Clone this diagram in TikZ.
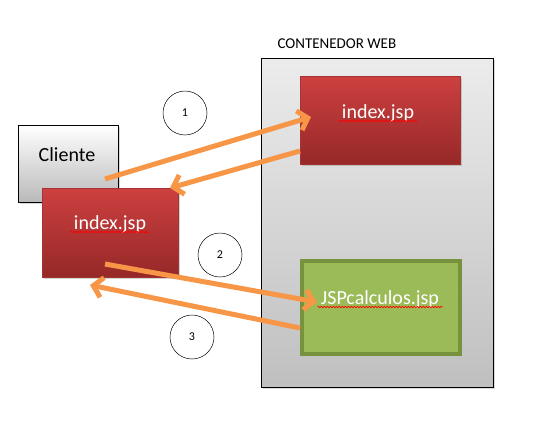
\documentclass[tikz,border=0pt]{standalone}
\usepackage{fontspec}
\setmainfont{Carlito}
\usetikzlibrary{arrows.meta,shadows,decorations.pathmorphing}
\definecolor{redtop}{HTML}{CD4040}
\definecolor{redbot}{HTML}{962828}
\definecolor{greenfill}{HTML}{9BBB59}
\definecolor{greenline}{HTML}{76923C}
\definecolor{arrowor}{HTML}{F79646}
\tikzset{
  redbox/.style={minimum width=#1, top color=redtop, bottom color=redbot, draw=redtop!80!black, line width=0.4pt, text=white, font=\fontsize{20}{24}\selectfont, drop shadow={shadow xshift=2pt, shadow yshift=-2pt, opacity=0.35}},
  numcircle/.style={circle, draw=black, line width=0.5pt, minimum size=44pt, inner sep=0pt, font=\fontsize{12}{14}\selectfont},
  flow/.style={draw=arrowor, line width=5pt, -{Straight Barb[length=9pt,width=20pt]}},
  spell/.style={draw=red, line width=0.6pt, decorate, decoration={snake, amplitude=0.8pt, segment length=3pt}}
}
\begin{document}
\begin{tikzpicture}[x=1pt,y=-1pt]
\useasboundingbox (0,0) rectangle (534,431);
% container
\node[draw=black, line width=0.8pt, top color=gray!15, bottom color=gray!50, minimum width=232pt, minimum height=329pt, anchor=north west, drop shadow={shadow xshift=2pt, shadow yshift=-2pt, opacity=0.3}] (cont) at (261,58) {};
\node[font=\fontsize{15}{18}\selectfont, anchor=base west] (contlbl) at (274,48) {CONTENEDOR WEB};
% client
\node[draw=black, line width=0.8pt, top color=white, bottom color=gray!55, minimum width=100pt, minimum height=77pt, anchor=north west, drop shadow={shadow xshift=2pt, shadow yshift=-2pt, opacity=0.3}] (cliente) at (18,125) {};
\node[font=\fontsize{20}{24}\selectfont, anchor=base] (clientelbl) at (67,161) {Cliente};
\node[redbox=136pt, minimum height=89pt, anchor=north west] (cindex) at (42,188) {};
\node[text=white, font=\fontsize{20}{24}\selectfont, anchor=base] (cindexlbl) at (110,229) {index.jsp};
% server index
\node[redbox=160pt, minimum height=88pt, anchor=north west] (sindex) at (300,76) {};
\node[text=white, font=\fontsize{20}{24}\selectfont, anchor=base] (sindexlbl) at (378,118) {index.jsp};
% green
\node[draw=greenline, line width=3.5pt, fill=greenfill, minimum width=158pt, minimum height=93pt, anchor=north west] (calc) at (300,259) {};
\node[text=white, font=\fontsize{20}{24}\selectfont, anchor=base] (calclbl) at (380,304) {JSPcalculos.jsp};
% spell underlines
\draw[spell] ([yshift=-3pt]cindexlbl.base west) -- ([yshift=-3pt]cindexlbl.base east);
\draw[spell] ([yshift=-3pt]sindexlbl.base west) -- ([yshift=-3pt]sindexlbl.base east);
\draw[spell] ([yshift=-3pt]calclbl.base west) -- ([yshift=-3pt]calclbl.base east);
% circles
\node[numcircle] (n1) at (185,113) {1};
\node[numcircle] (n2) at (220,255) {2};
\node[numcircle] (n3) at (192,337) {3};
% arrows
\coordinate (a1s) at (105,179);
\coordinate (a1e) at (311,117);
\coordinate (b1s) at (300,151);
\coordinate (b1e) at (170,188);
\coordinate (a2s) at (105,264);
\coordinate (a2e) at (317,302);
\coordinate (b2s) at (300,328);
\coordinate (b2e) at (90,285);
\draw[flow] (a1s) -- (a1e);
\draw[flow] (b1s) -- (b1e);
\draw[flow] (a2s) -- (a2e);
\draw[flow] (b2s) -- (b2e);
\end{tikzpicture}
\end{document}
